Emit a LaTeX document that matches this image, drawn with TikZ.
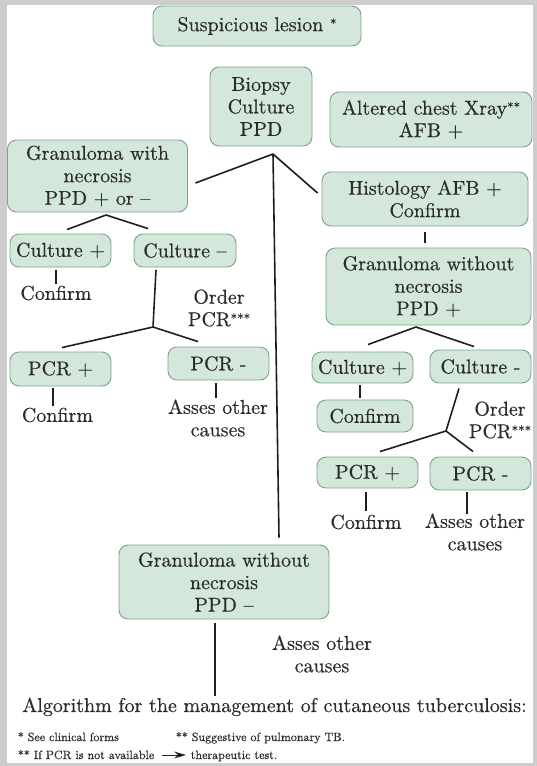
\documentclass[tikz,border=0pt]{standalone}
\usepackage{fontspec}
\setmainfont{lmroman10-regular.otf}[FakeBold=0.4]
\usetikzlibrary{arrows.meta}
\definecolor{boxfill}{HTML}{D3E7DA}
\definecolor{boxline}{HTML}{7FA28C}
\definecolor{txtgray}{HTML}{2B2B2B}
\definecolor{framegray}{HTML}{CDCDCD}
\newcommand{\starmark}[1]{\raisebox{3pt}{\fontsize{13}{13}\selectfont #1}}
\begin{document}
\begin{tikzpicture}[x=1pt, y=-1pt, line width=1.6pt, text=txtgray, font=\fontsize{20}{22.5}\selectfont,
        box/.style={draw=boxline, fill=boxfill, line width=0.9pt, rounded corners=9pt, align=center, inner sep=1pt},
        note/.style={align=center, inner sep=0pt},
        link/.style={draw=black!88},
        foot/.style={font=\fontsize{12}{14}\selectfont, inner sep=0pt, anchor=base west}]
        \useasboundingbox (0,0) rectangle (537,766);
        \fill[framegray] (0,0) rectangle (537,766);
        \fill[white] (7,5) rectangle (533,763);

        \node[box, minimum width=208pt, minimum height=40pt] (sl) at (257,26) {Suspicious lesion \starmark{*}};
        \node[box, minimum width=102pt, minimum height=79pt] (bio) at (261,106.5) {Biopsy\\Culture\\PPD};
        \node[box, minimum width=202pt, minimum height=55pt] (acx) at (431,119.5) {Altered chest Xray\starmark{**}\\AFB +};
        \node[box, minimum width=180pt, minimum height=72pt] (gwn) at (97.5,176) {Granuloma with\\necrosis\\PPD + or \textendash};
        \node[box, minimum width=206pt, minimum height=54pt] (hist) at (425,199) {Histology AFB +\\Confirm};

        \node[box, minimum width=101pt, minimum height=33pt] (cp1) at (60.5,250.5) {Culture +};
        \node[box, minimum width=102pt, minimum height=33pt] (cm1) at (185,250.5) {Culture \textendash};
        \node[note] (conf1) at (56,293) {Confirm};
        \node[note] (ord1) at (219,308) {Order\\PCR\starmark{***}};
        \node[box, minimum width=101pt, minimum height=34pt] (pp1) at (60.5,369) {PCR +};
        \node[box, minimum width=101pt, minimum height=33pt] (pm1) at (218.5,363.5) {PCR -};
        \node[note] (conf2) at (57.5,415) {Confirm};
        \node[note] (aoc1) at (218,418) {Asses other\\causes};

        \node[box, minimum width=205pt, minimum height=77pt] (gwo1) at (428.5,286.5) {Granuloma without\\necrosis\\PPD +};
        \node[box, minimum width=101pt, minimum height=31pt] (cp2) at (362.5,367.5) {Culture +};
        \node[box, minimum width=101pt, minimum height=33pt] (cm2) at (480.5,366.5) {Culture -};
        \node[box, minimum width=96pt, minimum height=32pt] (cf3) at (365,416) {Confirm};
        \node[note] (ord2) at (500,420) {Order\\PCR\starmark{***}};
        \node[box, minimum width=101pt, minimum height=31pt] (pp2) at (367.5,472.5) {PCR +};
        \node[box, minimum width=101pt, minimum height=33pt] (pm2) at (480.5,473.5) {PCR -};
        \node[note] (conf4) at (366,522) {Confirm};
        \node[note] (aoc2) at (475,532) {Asses other\\causes};

        \node[box, minimum width=210pt, minimum height=74pt] (gwo2) at (224,582) {Granuloma without\\necrosis\\PPD \textendash};
        \node[note] (aoc3) at (322,654) {Asses other\\causes};
        \node[note, anchor=base] (title) at (274.5,712) {Algorithm for the management of cutaneous tuberculosis:};

        \node[foot] (fn1) at (17,741) {* See clinical forms};
        \node[foot] (fn2) at (175,741) {** Suggestive of pulmonary TB.};
        \node[foot] (fn3) at (17,759) {** If PCR is not available};
        \node[foot] (fn4) at (190,759) {therapeutic test.};

        \coordinate (j1) at (273,154);
        \coordinate (j2) at (106,215);
        \coordinate (j3) at (153,327);
        \coordinate (j4) at (416,327);
        \coordinate (j5) at (446,431);

        \path[link] (j1) edge ([xshift=7.5pt, yshift=-7pt]gwn.east)
        (j1) edge ([xshift=-4pt, yshift=6pt]hist.west)
        (j1) edge ([xshift=55pt, yshift=7pt]gwo2.north)
        (j2) edge ([xshift=6.5pt, yshift=4pt]cp1.north)
        (j2) edge ([xshift=-37pt, yshift=5pt]cm1.north)
        ([xshift=-4.5pt, yshift=-2.5pt]cp1.south) edge ([yshift=1pt]conf1.north)
        ([xshift=-29pt, yshift=-2.5pt]cm1.south) edge (j3)
        (j3) edge ([xshift=1.5pt, yshift=4pt]pp1.north)
        (j3) edge ([xshift=-20.5pt, yshift=5pt]pm1.north)
        ([xshift=-7.5pt, yshift=-2pt]pp1.south) edge ([xshift=-4.5pt, yshift=1pt]conf2.north)
        ([xshift=-2.5pt, yshift=-3pt]pm1.south) edge ([xshift=-2pt, yshift=1pt]aoc1.north)
        ([yshift=-6pt]hist.south) edge ([xshift=-3.5pt, yshift=5pt]gwo1.north)
        (j4) edge ([xshift=5.5pt, yshift=7pt]cp2.north)
        (j4) edge ([xshift=-6.5pt, yshift=3pt]cm2.north)
        ([xshift=-2.5pt, yshift=-2pt]cp2.south) edge ([xshift=-5pt, yshift=2pt]cf3.north)
        ([xshift=-21.5pt, yshift=-5pt]cm2.south) edge (j5)
        (j5) edge ([xshift=12.5pt, yshift=5pt]pp2.north)
        (j5) edge ([xshift=-7.5pt, yshift=5pt]pm2.north)
        ([xshift=-1.5pt, yshift=-4pt]pp2.south) edge ([yshift=3pt]conf4.north)
        ([xshift=-13.5pt, yshift=-2pt]pm2.south) edge ([xshift=-8pt, yshift=-1pt]aoc2.north)
        ([xshift=-9pt, yshift=-4pt]gwo2.south) edge ([xshift=-59.5pt, yshift=1pt]title.north);

        \path[draw=txtgray, line width=0.9pt] ([xshift=7pt, yshift=4pt]fn3.base east) edge[-{Stealth[length=12pt, width=7pt, inset=4pt]}] ([xshift=-4pt, yshift=4pt]fn4.base west);
    \end{tikzpicture}
\end{document}
